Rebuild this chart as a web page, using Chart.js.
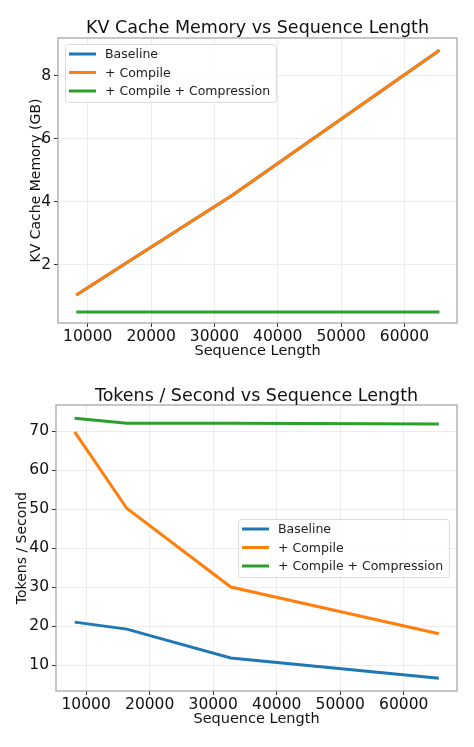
<!DOCTYPE html>
<html><head><meta charset="utf-8">
<script src="https://cdn.jsdelivr.net/npm/chart.js@4"></script>
<style>
html,body{margin:0;padding:0;background:#fff;width:474px;height:747px;overflow:hidden}
.w{position:absolute;left:0;width:474px}
</style></head><body>
<div class="w" style="top:0;height:370px"><canvas id="c1"></canvas></div>
<div class="w" style="top:370px;height:377px"><canvas id="c2"></canvas></div>
<script>
const seqLen = [8192, 16384, 32768, 65536];
const memBaseline = [1.05, 2.1, 4.2, 8.8];
const memCompile = [1.05, 2.1, 4.2, 8.8];
const memCompress = [0.51, 0.51, 0.51, 0.51];
const tpsBaseline = [21.0, 19.2, 11.8, 6.6];
const tpsCompile = [69.8, 50.2, 30.0, 18.0];
const tpsCompress = [73.3, 72.0, 72.0, 71.8];
const seriesNames = ['Baseline', '+ Compile', '+ Compile + Compression'];
const xTicks = [10000, 20000, 30000, 40000, 50000, 60000];
const memTicks = [2, 4, 6, 8];
const tpsTicks = [10, 20, 30, 40, 50, 60, 70];
const colors = ['#1f77b4', '#ff7f0e', '#2ca02c'];
const FONT = "'DejaVu Sans', sans-serif";

function legendPlugin(pos){
  return {id:'lg', afterDraw(chart){
    const c = chart.ctx; c.save();
    c.fillStyle='rgba(255,255,255,0.85)'; c.strokeStyle='#dddddd'; c.lineWidth=1;
    c.beginPath(); c.roundRect(pos.x+0.5,pos.y+0.5,211,58,3); c.fill(); c.stroke();
    c.font = "12.5px "+FONT; c.textBaseline='middle';
    seriesNames.forEach((n,i)=>{
      const y = pos.y+10+i*18.5;
      c.strokeStyle=colors[i]; c.lineWidth=3;
      c.beginPath(); c.moveTo(pos.x+4,y); c.lineTo(pos.x+31,y); c.stroke();
      c.fillStyle='#222'; c.fillText(n,pos.x+40,y+1);
    });
    c.restore();
  }};
}
function titlePlugin(text, y){
  return {id:'ttl', afterDraw(chart){
    const a=chart.chartArea, c=chart.ctx; c.save();
    c.font="17.5px "+FONT; c.fillStyle='#111'; c.textAlign='center'; c.textBaseline='alphabetic';
    c.fillText(text,(a.left+a.right)/2,y); c.restore();
  }};
}
const framePlugin = {id:'frame', afterDatasetsDraw(chart){
  const a=chart.chartArea, c=chart.ctx; c.save();
  c.strokeStyle='#a0a0a0'; c.lineWidth=1.2;
  c.strokeRect(a.left,a.top,a.right-a.left,a.bottom-a.top); c.restore();
}};

function make(id, ys, yMin, yMax, xMin, xMax, yTicks, title, yTitle, legPos, padL, leftW, padT, botH, padB, titleY){
  new Chart(document.getElementById(id), {
    type:'line',
    data:{datasets: ys.map((d,i)=>({label:seriesNames[i], data:seqLen.map((x,j)=>({x, y:d[j]})),
      borderColor:colors[i], borderWidth:3, pointRadius:0, tension:0, fill:false, order:2-i}))},
    options:{
      responsive:true, maintainAspectRatio:false, animation:false,
      layout:{padding:{top:padT,right:17,left:padL,bottom:padB}},
      plugins:{legend:{display:false}, tooltip:{enabled:false}, title:{display:false}},
      scales:{
        x:{type:'linear', min:xMin, max:xMax,
          afterBuildTicks(s){s.ticks = xTicks.map(v=>({value:v}));},
          afterFit(s){s.height=botH;},
          ticks:{color:'#111', font:{family:FONT,size:15.5}, padding:1, maxRotation:0, callback:v=>String(v)},
          grid:{color:'#ececec', drawTicks:true, tickLength:4, tickColor:'#333'}, border:{display:false},
          title:{display:true, text:'Sequence Length', color:'#111', font:{family:FONT,size:14.5}, padding:{top:0,bottom:0}}},
        y:{min:yMin, max:yMax,
          afterBuildTicks(s){s.ticks = yTicks.map(v=>({value:v}));},
          afterFit(s){s.width=leftW;},
          ticks:{color:'#111', font:{family:FONT,size:15.5}, padding:3, callback:v=>String(v)},
          grid:{color:'#ececec', drawTicks:true, tickLength:4, tickColor:'#333'}, border:{display:false},
          title:{display:true, text:yTitle, color:'#111', font:{family:FONT,size:14}, padding:{top:0,bottom:0}}}
      }
    },
    plugins:[framePlugin, legendPlugin(legPos), titlePlugin(title, titleY)]
  });
}
make('c1', [memBaseline, memCompile, memCompress], 0.16, 9.19, 5300, 68300, memTicks,
  'KV Cache Memory vs Sequence Length', 'KV Cache Memory (GB)', {x:65,y:44}, 28, 30, 38, 37, 10, 33);
make('c2', [tpsBaseline, tpsCompile, tpsCompress], 3.33, 76.7, 5250, 68390, tpsTicks,
  'Tokens / Second vs Sequence Length', 'Tokens / Second', {x:238,y:149}, 14, 42, 35, 37, 19, 31);
</script>
</body></html>
